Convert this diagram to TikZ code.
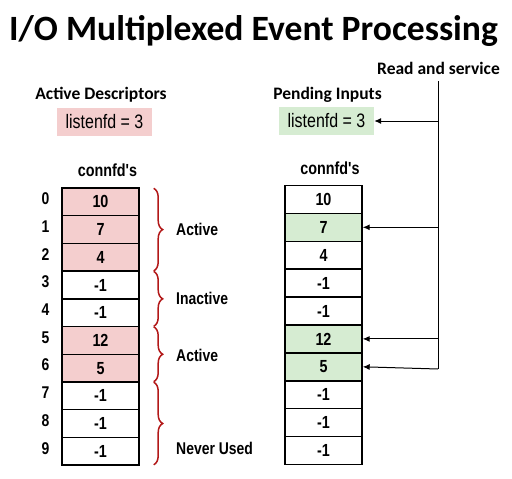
\documentclass[tikz,border=0pt]{standalone}
\usepackage{fontspec}
\setmainfont{Carlito}
\newfontfamily\narrowfont[FakeStretch=0.82]{Liberation Sans}
\usetikzlibrary{arrows.meta,decorations.pathreplacing,calc}
\definecolor{pinkfill}{RGB}{244,206,206}
\definecolor{greenfill}{RGB}{214,236,210}
\definecolor{bracered}{RGB}{178,24,24}
\begin{document}
\begin{tikzpicture}[x=1pt,y=-1pt,
  cell/.style={draw=black,line width=1.4pt,minimum width=77pt,minimum height=27.8pt,inner sep=0pt,
    font=\narrowfont\bfseries\fontsize{17.5}{17.5}\selectfont},
  idx/.style={font=\narrowfont\bfseries\fontsize{17}{17}\selectfont,inner sep=0pt},
  head/.style={font=\bfseries\fontsize{17.5}{18}\selectfont,inner sep=0pt},
  lbl/.style={font=\narrowfont\bfseries\fontsize{17}{17}\selectfont,inner sep=0pt,anchor=west},
  listbox/.style={minimum width=95pt,minimum height=28pt,inner sep=0pt,
    font=\narrowfont\fontsize{19.5}{19.5}\selectfont},
  brc/.style={draw=bracered,line width=1.5pt,decorate,decoration={brace,amplitude=9pt}},
  arr/.style={draw=black,line width=1pt,-{Latex[length=7pt,width=6pt]}}
]
\useasboundingbox (0,0) rectangle (512,479);
\node[font=\bfseries\fontsize{35.6}{37}\selectfont,inner sep=0pt] (title) at (253.5,31) {I/O Multiplexed Event Processing};

% left side
\node[head] (ad) at (101,95) {Active Descriptors};
\node[listbox,fill=pinkfill] (lf1) at (104.5,122) {listenfd = 3};
\node[font=\narrowfont\bfseries\fontsize{17.5}{17.5}\selectfont,inner sep=0pt] (c1) at (107.5,170) {connfd's};

\foreach \i/\v/\f in {0/10/pinkfill,1/7/pinkfill,2/4/pinkfill,3/-1/white,4/-1/white,5/12/pinkfill,6/5/pinkfill,7/-1/white,8/-1/white,9/-1/white}{
  \node[cell,fill=\f] (L\i) at (100.5,{201.9+27.7*\i}) {\v};
  \node[idx] (I\i) at (45.5,{201.9+27.7*\i-3}) {\i};
}

\draw[brc] ($(L0.north east)+(14,1)$) -- ($(L2.south east)+(14,-1)$);
\draw[brc] ($(L3.north east)+(14,1)$) -- ($(L4.south east)+(14,-1)$);
\draw[brc] ($(L5.north east)+(14,1)$) -- ($(L6.south east)+(14,-1)$);
\draw[brc] ($(L7.north east)+(14,1)$) -- ($(L9.south east)+(14,-1)$);

\node[lbl] (a1) at (176,229) {Active};
\node[lbl] (a2) at (176,298) {Inactive};
\node[lbl] (a3) at (176,355) {Active};
\node[lbl] (a4) at (176,448) {Never Used};

% right side
\node[head] (pi) at (327.5,95) {Pending Inputs};
\node[listbox,fill=greenfill] (lf2) at (326.5,121) {listenfd = 3};
\node[font=\narrowfont\bfseries\fontsize{17.5}{17.5}\selectfont,inner sep=0pt] (c2) at (330,168) {connfd's};

\foreach \i/\v/\f in {0/10/white,1/7/greenfill,2/4/white,3/-1/white,4/-1/white,5/12/greenfill,6/5/greenfill,7/-1/white,8/-1/white,9/-1/white}{
  \node[cell,fill=\f] (R\i) at (323.5,{199.4+27.9*\i}) {\v};
}

\node[head] (rs) at (438.5,68) {Read and service};
\coordinate (vt) at (438,81);
\coordinate (vb) at (438,369);
\draw[line width=1pt] (vt) -- (vb);
\draw[arr] (vt |- lf2.east) -- (lf2.east);
\draw[arr] (vt |- R1.east) -- (R1.east);
\draw[arr] (vt |- R5.east) -- (R5.east);
\draw[arr] (vb) -- (R6.east);
\end{tikzpicture}
\end{document}
